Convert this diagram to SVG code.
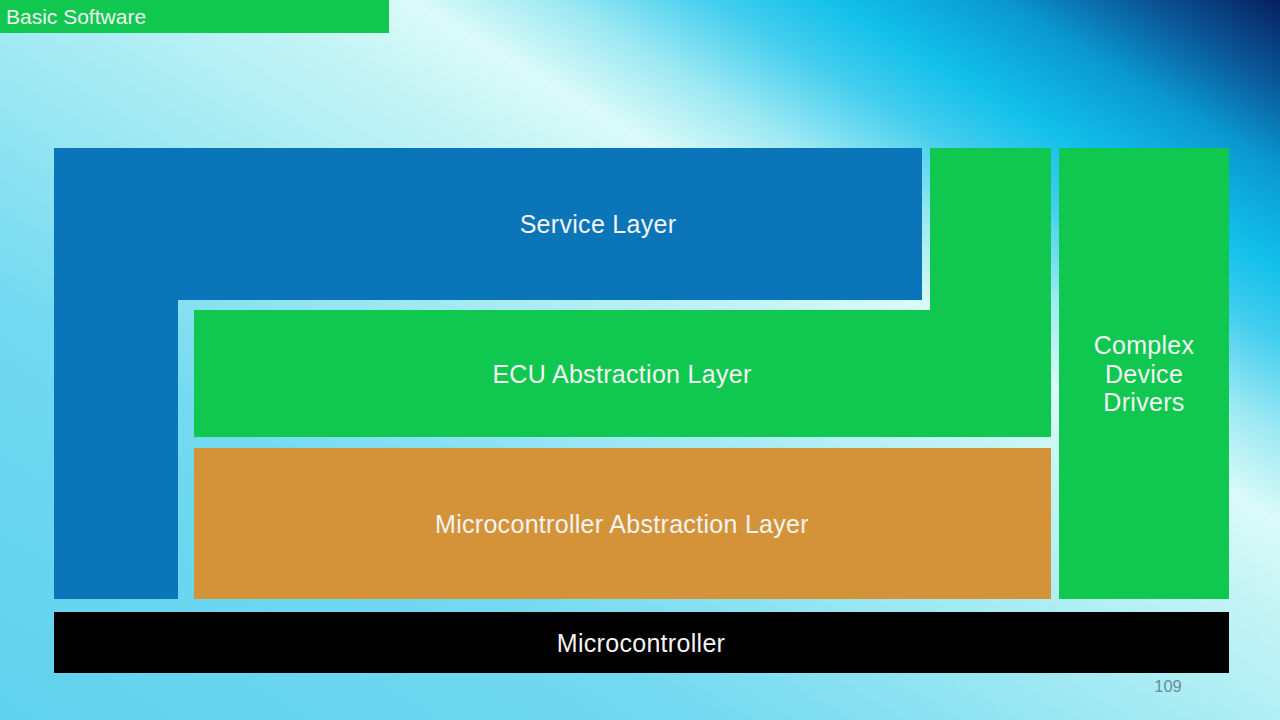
<svg xmlns="http://www.w3.org/2000/svg" width="1280" height="720" viewBox="0 0 1280 720">
<defs>
<linearGradient id="bg" gradientUnits="userSpaceOnUse" x1="0" y1="720" x2="656.5" y2="-374">
<stop offset="0" stop-color="#60d2ee"/>
<stop offset="0.282" stop-color="#72d9f0"/>
<stop offset="0.484" stop-color="#a8ecf4"/>
<stop offset="0.585" stop-color="#c4f4f5"/>
<stop offset="0.649" stop-color="#dafbf8"/>
<stop offset="0.706" stop-color="#a0eaf3"/>
<stop offset="0.773" stop-color="#40cdee"/>
<stop offset="0.82" stop-color="#12c0ea"/>
<stop offset="0.887" stop-color="#0a98d0"/>
<stop offset="0.941" stop-color="#0a5a9a"/>
<stop offset="1" stop-color="#062060"/>
</linearGradient>
<style>
.lbl{font-family:"Liberation Sans",Arial,sans-serif;font-size:25px;letter-spacing:0.3px;fill:#f4f4f4;text-anchor:middle;dominant-baseline:central}
.blue{fill:#0b75b9}
.green{fill:#10c850}
.orange{fill:#d49338}
.black{fill:#000}
</style>
</defs>
<rect x="0" y="0" width="1280" height="720" fill="url(#bg)"/>

<g id="header">
<rect x="0" y="0" width="389" height="33" class="green"/>
<text x="6" y="16" style="font-family:'Liberation Sans',Arial,sans-serif;font-size:21px;fill:#f2f2f2;dominant-baseline:central">Basic Software</text>
</g>

<g id="service-layer">
<polygon class="blue" points="54,148 922,148 922,300 178,300 178,599 54,599"/>
<text class="lbl" x="598" y="224">Service Layer</text>
</g>

<g id="ecu-abstraction-layer">
<polygon class="green" points="930,148 1051,148 1051,437 194,437 194,310 930,310"/>
<text class="lbl" x="622" y="374">ECU Abstraction Layer</text>
</g>

<g id="mcal">
<rect class="orange" x="194" y="448" width="857" height="151"/>
<text class="lbl" x="622" y="524">Microcontroller Abstraction Layer</text>
</g>

<g id="complex-device-drivers">
<rect class="green" x="1059" y="148" width="170" height="451"/>
<text class="lbl" x="1144" y="345">Complex</text>
<text class="lbl" x="1144" y="374">Device</text>
<text class="lbl" x="1144" y="402">Drivers</text>
</g>

<g id="microcontroller">
<rect class="black" x="54" y="612" width="1175" height="61"/>
<text class="lbl" x="641" y="643">Microcontroller</text>
</g>

<g id="connectors"></g>

<text x="1168" y="686" style="font-family:'Liberation Sans',Arial,sans-serif;font-size:16.5px;fill:#6a8c98;text-anchor:middle;dominant-baseline:central">109</text>
</svg>
